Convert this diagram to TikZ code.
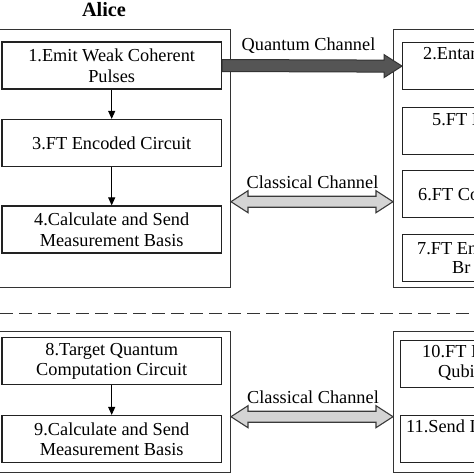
\documentclass[tikz,border=0pt]{standalone}
\usepackage{fontspec}
\setmainfont{Liberation Serif}
\usetikzlibrary{calc,arrows.meta}
\definecolor{lineC}{HTML}{222222}
\definecolor{outerC}{HTML}{333333}
\definecolor{qfill}{HTML}{555555}
\definecolor{cfill}{HTML}{D4D4D4}
\definecolor{cdraw}{HTML}{3A3A3A}
\tikzset{
  txt/.style={font=\fontsize{18.3}{20.5}\selectfont},
  stepbox/.style={draw=lineC, line width=1.2pt, minimum width=219.5pt, minimum height=47pt, inner sep=0pt, align=center, txt},
  rbox/.style={draw=lineC, line width=1.2pt, minimum width=200pt, minimum height=47pt, inner sep=0pt, anchor=north west},
  outerbox/.style={draw=outerC, line width=1pt, inner sep=0pt, anchor=north west},
  rtext/.style={txt, anchor=base west, inner sep=0pt},
  chlabel/.style={txt, anchor=base, inner sep=0pt},
  flow/.style={draw=black, line width=1pt, -{Triangle[length=8pt,width=7pt]}},
  qarrow/.style={fill=qfill, draw=outerC, line width=1pt, line join=miter},
  carrow/.style={fill=cfill, draw=cdraw, line width=1.1pt, line join=miter},
  sep/.style={draw=outerC, line width=1.3pt, dash pattern=on 13pt off 6pt}
}
\begin{document}
\begin{tikzpicture}[x=1pt,y=-1pt]
\useasboundingbox (0,0) rectangle (474,474);
\fill[white] (0,0) rectangle (474,474);
\clip (0,0) rectangle (474,474);

% title
\node[font=\fontsize{20.3}{22}\selectfont\bfseries, anchor=base, inner sep=0pt] (alice) at (104,16.5) {Alice};

% outer boxes
\node[outerbox, minimum width=240pt, minimum height=258pt] (aup) at (-10,29) {};
\node[outerbox, minimum width=200pt, minimum height=258pt] (bup) at (393,29) {};
\node[outerbox, minimum width=240pt, minimum height=141pt] (alow) at (-10,331) {};
\node[outerbox, minimum width=200pt, minimum height=141pt] (blow) at (393,331) {};

% Alice steps
\node[stepbox] (b1) at (111.7,65.5) {1.Emit Weak Coherent\\Pulses};
\node[stepbox] (b3) at (111.7,143) {3.FT Encoded Circuit};
\node[stepbox] (b4) at (111.7,229.5) {4.Calculate and Send\\Measurement Basis};
\node[stepbox] (b8) at (111.7,361.3) {8.Target Quantum\\Computation Circuit};
\node[stepbox] (b9) at (111.7,439) {9.Calculate and Send\\Measurement Basis};

\draw[flow] (b1.south) -- (b3.north);
\draw[flow] (b3.south) -- (b4.north);
\draw[flow] (b8.south) -- (b9.north);

% Bob steps (cut off at the right edge)
\node[rbox] (b2) at (402,42) {};
\node[rbox] (b5) at (402,107) {};
\node[rbox] (b6) at (402,169.5) {};
\node[rbox] (b7) at (402,233.5) {};
\node[rbox, minimum height=47.5pt] (b10) at (399.5,339.5) {};
\node[rbox] (b11) at (399.5,415) {};

\node[rtext] (t2) at (423,59.5) {2.Entan};
\node[rtext] (t5) at (432,125) {5.FT I};
\node[rtext] (t6) at (418,200) {6.FT Co};
\node[rtext] (t7a) at (417,254) {7.FT En};
\node[rtext] (t7b) at (452,273.5) {Br};
\node[rtext] (t10a) at (422,357) {10.FT I};
\node[rtext] (t10b) at (438,377.5) {Qubi};
\node[rtext] (t11) at (406,432) {11.Send I};

% quantum channel
\draw[qarrow] ($(b1.east)+(0,-6)$) -- ($(b2.west)+(-18,-6)$) -- ($(b2.west)+(-18,-11.5)$) -- (b2.west)
  -- ($(b2.west)+(-18,11.5)$) -- ($(b2.west)+(-18,6)$) -- ($(b1.east)+(0,6)$) -- cycle;
\node[chlabel] (ql) at (308.5,50) {Quantum Channel};

% classical channels
\coordinate (c1a) at (aup.east |- 0,201.7);
\coordinate (c1b) at (bup.west |- 0,201.7);
\coordinate (c2a) at (alow.east |- 0,416.7);
\coordinate (c2b) at (blow.west |- 0,416.7);
\foreach \a/\b in {c1a/c1b,c2a/c2b}{
  \draw[carrow] (\a) -- ($(\a)+(17,-11)$) -- ($(\a)+(17,-5.5)$) -- ($(\b)+(-17,-5.5)$) -- ($(\b)+(-17,-11)$)
    -- (\b) -- ($(\b)+(-17,11)$) -- ($(\b)+(-17,5.5)$) -- ($(\a)+(17,5.5)$) -- ($(\a)+(17,11)$) -- cycle;
}
\node[chlabel] (cl1) at (312.5,188) {Classical Channel};
\node[chlabel] (cl2) at (313,403) {Classical Channel};

% separator
\coordinate (sl) at (0,313.3);
\coordinate (sr) at (474,313.3);
\draw[sep] (sl) -- (sr);
\end{tikzpicture}
\end{document}
